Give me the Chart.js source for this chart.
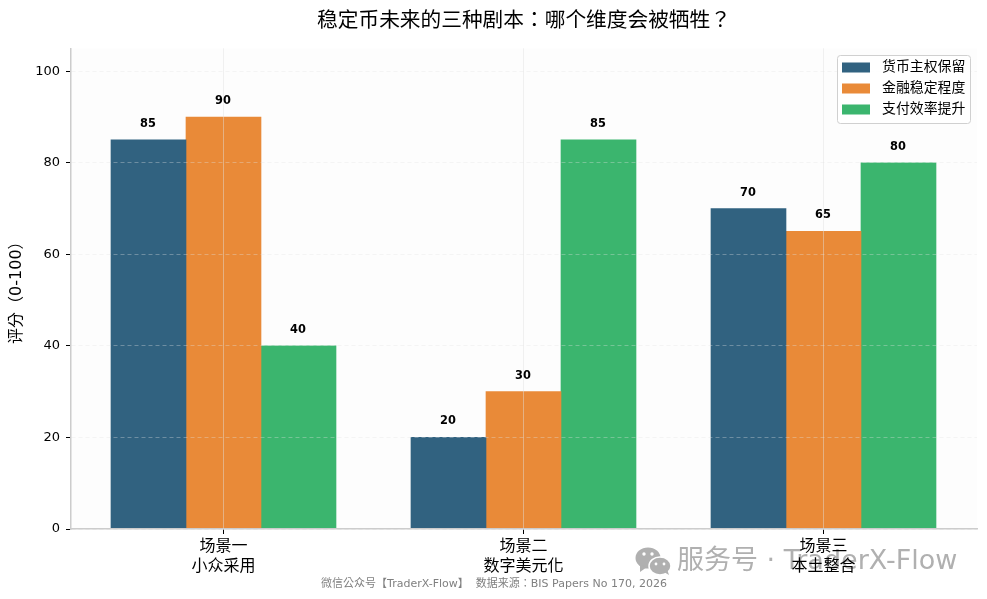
<!DOCTYPE html>
<html>
<head>
<meta charset="utf-8">
<style>
  html, body { margin: 0; padding: 0; background: #fff; }
  #wrap { width: 987px; height: 599px; }
</style>
<script src="https://cdn.jsdelivr.net/npm/chart.js@4"></script>
</head>
<body>
<div id="wrap"><canvas id="scoreChart"></canvas></div>
<script>
const FONT = '"DejaVu Sans", "Noto Sans CJK TC", sans-serif';

const categories = [['场景一', '小众采用'], ['场景二', '数字美元化'], ['场景三', '本土整合']];
const seriesNames = ['货币主权保留', '金融稳定程度', '支付效率提升'];
const seriesColors = ['#316280', '#e98a38', '#3bb56e'];
const sovereignty = [85, 20, 70];
const stability = [90, 30, 65];
const efficiency = [40, 85, 80];
const yTicks = [0, 20, 40, 60, 80, 100];
const titleText = '稳定币未来的三种剧本：哪个维度会被牺牲？';
const yTitle = '评分（0-100）';
const footerText = '微信公众号【TraderX-Flow】  数据来源：BIS Papers No 170, 2026';
const watermarkText = '服务号 · TraderX-Flow';

const toPoints = values => values.map((y, x) => ({ x, y }));

// --- plot background and watermark, drawn first so the axis labels sit on top ---
const watermark = {
    id: 'watermark',
    beforeDraw(chart) {
        const c = chart.ctx;
        const area = chart.chartArea;
        c.save();
        c.fillStyle = '#fdfdfd';
        c.fillRect(area.left, area.top, area.right - area.left, area.bottom - area.top);
        c.fillStyle = '#b0b0b0';
        c.beginPath();
        c.ellipse(648, 558, 12.5, 10.5, 0, 0, Math.PI * 2);
        c.fill();
        c.beginPath();
        c.moveTo(640, 565); c.lineTo(640, 572); c.lineTo(647, 567);
        c.fill();
        c.strokeStyle = '#fff';
        c.lineWidth = 1.5;
        c.beginPath();
        c.ellipse(660, 566, 11, 9, 0, 0, Math.PI * 2);
        c.fill();
        c.stroke();
        c.beginPath();
        c.moveTo(664, 572); c.lineTo(669, 575); c.lineTo(667, 569);
        c.fill();
        c.fillStyle = '#fff';
        [[644, 554, 1.7], [652, 554, 1.7], [656, 564, 1.4], [664, 564, 1.4]].forEach(([x, y, r]) => {
            c.beginPath();
            c.arc(x, y, r, 0, Math.PI * 2);
            c.fill();
        });
        c.fillStyle = '#b0b0b0';
        c.font = '27px ' + FONT;
        c.textAlign = 'left';
        c.textBaseline = 'middle';
        c.fillText(watermarkText, 677, 562);
        c.restore();
    }
};

// --- value labels, legend box and source line ---
const overlays = {
    id: 'overlays',
    afterDraw(chart) {
        const c = chart.ctx;
        c.save();
        c.fillStyle = '#000';
        c.font = 'bold 11.4px ' + FONT;
        c.textAlign = 'center';
        c.textBaseline = 'middle';
        chart.data.datasets.forEach((ds, i) => {
            chart.getDatasetMeta(i).data.forEach((bar, j) => {
                c.fillText(ds.data[j].y, bar.x - 0.5, bar.y - 16);
            });
        });

        c.beginPath();
        c.roundRect(837.5, 55.5, 133, 68, 3);
        c.fillStyle = 'rgba(255,255,255,0.85)';
        c.fill();
        c.strokeStyle = '#d0d0d0';
        c.lineWidth = 1;
        c.stroke();
        c.font = '13.9px ' + FONT;
        c.textAlign = 'left';
        seriesNames.forEach((name, i) => {
            const y = 67.5 + i * 21;
            c.fillStyle = seriesColors[i];
            c.fillRect(842, y - 5, 28, 10);
            c.fillStyle = '#000';
            c.fillText(name, 882, y);
        });

        c.fillStyle = '#808080';
        c.font = '11px ' + FONT;
        c.textAlign = 'center';
        c.fillText(footerText, 494, 584);
        c.restore();
    }
};

new Chart(document.getElementById('scoreChart'), {
    type: 'bar',
    data: {
        datasets: [sovereignty, stability, efficiency].map((values, i) => ({
            label: seriesNames[i],
            data: toPoints(values),
            backgroundColor: seriesColors[i],
            barThickness: 75
        }))
    },
    plugins: [watermark, overlays],
    options: {
        responsive: true,
        maintainAspectRatio: false,
        animation: false,
        layout: { padding: { right: 10 } },
        plugins: {
            legend: { display: false },
            tooltip: { enabled: false },
            title: {
                display: true,
                text: titleText,
                fullSize: false,
                color: '#000',
                font: { family: FONT, size: 20.7, weight: 'normal' },
                padding: { top: 9, bottom: 14.5 }
            }
        },
        scales: {
            x: {
                type: 'linear',
                offset: false,
                min: -0.5083,
                max: 2.5117,
                afterBuildTicks: scale => { scale.ticks = categories.map((_, i) => ({ value: i })); },
                afterFit: scale => { scale.height = 70; },
                grid: { offset: false, z: 1, color: 'rgba(225,225,225,0.45)', tickColor: '#000', tickLength: 5 },
                // the border needs the grid pass to have run first
                border: { z: 2, color: '#cccccc', width: 1.5 },
                ticks: {
                    color: '#000',
                    autoSkip: false,
                    maxRotation: 0,
                    padding: 3,
                    font: { family: FONT, size: 16, lineHeight: 1.25 },
                    callback: value => categories[value]
                }
            },
            y: {
                min: 0,
                max: 105,
                afterBuildTicks: scale => { scale.ticks = yTicks.map(value => ({ value })); },
                afterFit: scale => { scale.width = 71; },
                grid: { z: 1, color: 'rgba(225,225,225,0.35)', tickColor: '#000', tickLength: 5 },
                border: { z: 2, color: '#cccccc', width: 1.5, dash: [4, 3] },
                ticks: {
                    color: '#000',
                    padding: 6,
                    font: { family: FONT, size: 13 }
                },
                title: {
                    display: true,
                    text: yTitle,
                    color: '#000',
                    font: { family: FONT, size: 16 },
                    padding: { top: 7, bottom: 0 }
                }
            }
        }
    }
});
</script>
</body>
</html>
